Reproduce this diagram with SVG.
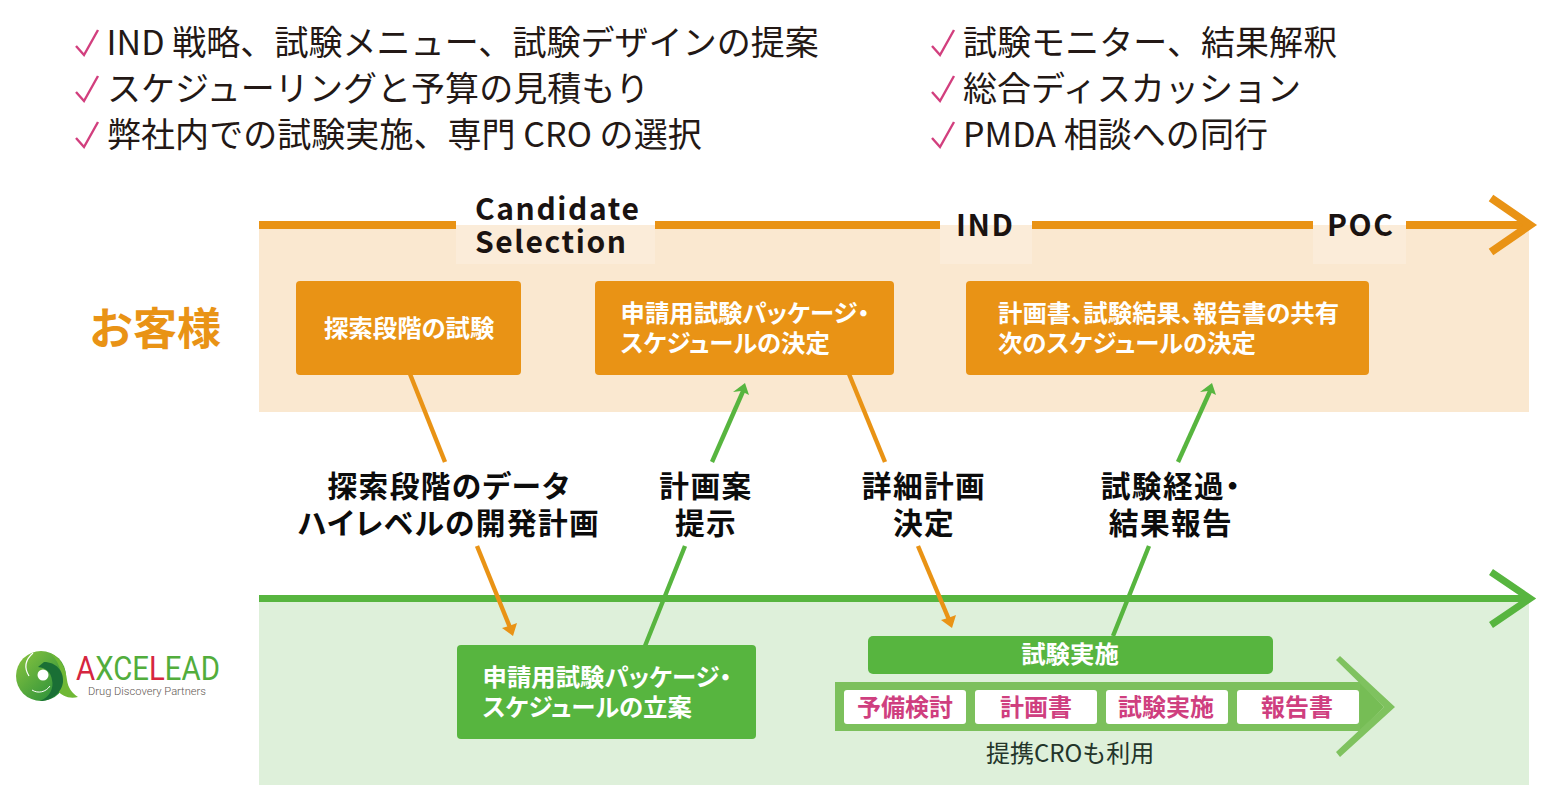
<svg xmlns="http://www.w3.org/2000/svg" width="1550" height="800" viewBox="0 0 1550 800">
<defs>
<style>
text{font-family:"Noto Sans CJK JP","Noto Sans",sans-serif}
.top{font-size:34px;fill:#231815;font-weight:400;letter-spacing:.05px}
.chk{fill:none;stroke:#d23f7e;stroke-width:2.4}
.ms{font-size:30px;font-weight:700;fill:#1a1311;letter-spacing:1.6px}
.box{fill:#e99315}
.gbox{fill:#57b53f}
.nt{font-size:24.4px;font-weight:700;fill:#fff;font-feature-settings:"palt"}
.lab{font-size:29.7px;font-weight:700;fill:#0c0c0c;text-anchor:middle;letter-spacing:1.4px;font-feature-settings:"palt"}
.sub{font-size:24px;font-weight:700;fill:#cf3f7f;text-anchor:middle}
.wb{fill:#fff}
.oc{fill:none;stroke:#e99315;stroke-width:4.4}
.gc{fill:none;stroke:#57b53f;stroke-width:4.4}
.oh{fill:#e99315}
.gh{fill:#57b53f}
.lg{font-family:"Roboto",sans-serif}
</style>
<linearGradient id="lg" x1="0" y1="0" x2="1" y2="1"><stop offset="0" stop-color="#8cc63f"/><stop offset="1" stop-color="#1f8a3a"/></linearGradient>
</defs>
<rect width="1550" height="800" fill="#fff"/>
<g id="bands">
<rect x="259" y="225" width="1270" height="187" fill="#fae8d0"/>
<rect x="259" y="598" width="1270" height="187" fill="#def0da"/>
</g>
<g id="checklist">
<path class="chk" d="M76 46L84 55L98 30"/><text class="top" x="106.500" y="55">IND 戦略、試験メニュー、試験デザインの提案</text>
<path class="chk" d="M76 92L84 101L98 76"/><text class="top" x="107" y="101">スケジューリングと予算の見積もり</text>
<path class="chk" d="M76 138L84 147L98 122"/><text class="top" x="107" y="147">弊社内での試験実施、専門 CRO の選択</text>
<path class="chk" d="M932 46L940 55L954 30"/><text class="top" x="963" y="55">試験モニター、結果解釈</text>
<path class="chk" d="M932 92L940 101L954 76"/><text class="top" x="963" y="101">総合ディスカッション</text>
<path class="chk" d="M932 138L940 147L954 122"/><text class="top" x="963" y="147">PMDA 相談への同行</text>
</g>
<g id="connectors">
<path d="M259 225H1530" fill="none" stroke="#e99315" stroke-width="8"/>
<path d="M1491 198L1530 225L1491 252" fill="none" stroke="#e99315" stroke-width="8"/>
<path d="M259 598.500H1530" fill="none" stroke="#57b53f" stroke-width="7"/>
<path d="M1491 572L1530 598.500L1491 625" fill="none" stroke="#57b53f" stroke-width="7"/>
<path class="oc" d="M410 374L445 462"/>
<path class="oc" d="M477 546L511 630"/><path class="oh" d="M513 636L502 628L509 626L517 623Z"/>
<path class="oc" d="M849 374L885 462"/>
<path class="oc" d="M918 546L950 622"/><path class="oh" d="M952 628L941 620L948 618L956 615Z"/>
<path class="gc" d="M645 646L685 546"/>
<path class="gc" d="M712 462L744 389"/><path class="gh" d="M745 383L733 392L741 391L749 395Z"/>
<path class="gc" d="M1113 636L1149 546"/>
<path class="gc" d="M1178 462L1211 389"/><path class="gh" d="M1212 383L1200 392L1208 391L1216 395Z"/>
</g>
<g id="milestone-candidate">
<rect x="456" y="190" width="199" height="35" fill="#fff"/>
<rect x="456" y="225" width="199" height="39" fill="#fbecd9"/>
<text class="ms" x="475" y="220">Candidate</text><text class="ms" x="475" y="253">Selection</text>
</g>
<g id="milestone-ind">
<rect x="940" y="190" width="92" height="35" fill="#fff"/>
<rect x="940" y="225" width="92" height="39" fill="#fbecd9"/>
<text class="ms" x="956" y="236">IND</text>
</g>
<g id="milestone-poc">
<rect x="1313" y="190" width="93" height="35" fill="#fff"/>
<rect x="1313" y="225" width="93" height="39" fill="#fbecd9"/>
<text class="ms" x="1327" y="236">POC</text>
</g>
<g id="customer-label"><text x="89" y="345" font-size="44" font-weight="700" fill="#e99315">お客様</text></g>
<g id="node-explore"><rect class="box" x="296" y="281" width="225" height="94" rx="4"/><text class="nt" x="324" y="337">探索段階の試験</text></g>
<g id="node-package"><rect class="box" x="595" y="281" width="299" height="94" rx="4"/><text class="nt" x="620.500" y="322">申請用試験パッケージ・</text><text class="nt" x="620.500" y="352">スケジュールの決定</text></g>
<g id="node-share"><rect class="box" x="966" y="281" width="403" height="94" rx="4"/><text class="nt" x="998" y="322">計画書、試験結果、報告書の共有</text><text class="nt" x="998" y="352">次のスケジュールの決定</text></g>
<g id="label-data"><text class="lab" x="449" y="497">探索段階のデータ</text><text class="lab" x="449" y="534">ハイレベルの開発計画</text></g>
<g id="label-plan"><text class="lab" x="706" y="497">計画案</text><text class="lab" x="706" y="534">提示</text></g>
<g id="label-detail"><text class="lab" x="924" y="497">詳細計画</text><text class="lab" x="924" y="534">決定</text></g>
<g id="label-progress"><text class="lab" x="1171" y="497">試験経過・</text><text class="lab" x="1171" y="534">結果報告</text></g>
<g id="logo">
<circle cx="41" cy="676" r="25" fill="url(#lg)"/>
<path d="M50 653C62 658 66 670 67 680C68 688 72 693 78 697C69 699 62 696 58 691C64 680 62 664 50 653Z" fill="#6fb835"/>
<path d="M44 662C56 662 64 671 63 682C62 692 52 701 40 701C50 697 54 688 52 680C51 672 46 668 38 667Z" fill="#1a6f35"/>
<path d="M33 653C25 660 24 668 29 676" fill="none" stroke="#fff" stroke-width="1.2"/>
<circle cx="43" cy="675" r="5.500" fill="#fff"/>
<path d="M32 690C38 694 46 692 50 686" fill="none" stroke="#fff" stroke-width="1"/>
<text class="lg" x="76" y="680" font-size="33" font-weight="400" fill="#52ad3c" textLength="144" lengthAdjust="spacingAndGlyphs"><tspan fill="#d6263f">A</tspan>XCE<tspan fill="#d6263f">L</tspan>EAD</text>
<text class="lg" x="88" y="695" font-size="11.500" font-weight="300" fill="#5f5853" textLength="118" lengthAdjust="spacingAndGlyphs">Drug Discovery Partners</text>
</g>
<g id="node-submission"><rect class="gbox" x="457" y="645" width="299" height="94" rx="4"/><text class="nt" x="482.500" y="686">申請用試験パッケージ・</text><text class="nt" x="482.500" y="716">スケジュールの立案</text></g>
<g id="node-trial"><rect class="gbox" x="868" y="636" width="405" height="38" rx="5"/><text class="nt" x="1070" y="663" text-anchor="middle">試験実施</text></g>
<g id="cro-arrow">
<path d="M835 682H1367V731H835Z" fill="#7cc05c"/>
<path d="M1360 682L1384 707L1360 731Z" fill="#76bd55"/>
<path d="M1340 656L1395 707L1340 757L1336 752L1384 707L1336 660Z" fill="#7fc25f"/>
</g>
<g id="step-1"><rect class="wb" x="844" y="690" width="122" height="34" rx="3"/><text class="sub" x="905" y="716">予備検討</text></g>
<g id="step-2"><rect class="wb" x="975" y="690" width="122" height="34" rx="3"/><text class="sub" x="1036" y="716">計画書</text></g>
<g id="step-3"><rect class="wb" x="1106" y="690" width="122" height="34" rx="3"/><text class="sub" x="1166" y="716">試験実施</text></g>
<g id="step-4"><rect class="wb" x="1237" y="690" width="122" height="34" rx="3"/><text class="sub" x="1297" y="716">報告書</text></g>
<g id="cro-note"><text x="986" y="762" font-size="24" fill="#24352a">提携CROも利用</text></g>
</svg>
